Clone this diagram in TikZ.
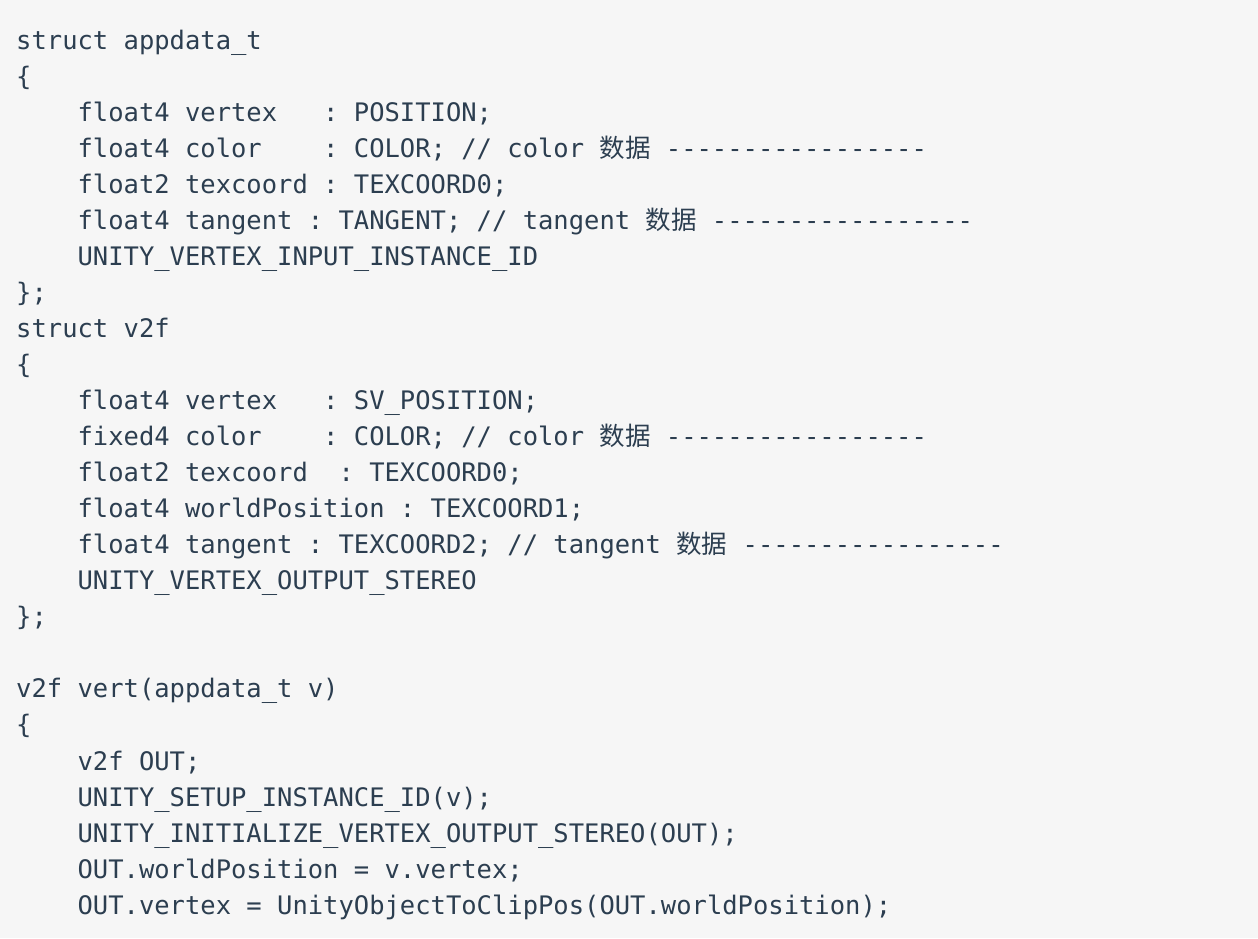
\documentclass[tikz,border=0pt]{standalone}
\usepackage{fontspec}
\setmonofont{DejaVu Sans Mono}
\newfontfamily\cjk{Noto Sans CJK SC}
\definecolor{bg}{HTML}{F6F6F6}
\definecolor{tx}{HTML}{2C3E50}
\newcommand{\zh}[1]{{\cjk #1}}
\begin{document}
\begin{tikzpicture}[x=1pt,y=-1pt,
  ln/.style={anchor=base west,inner sep=0pt,text=tx,font=\ttfamily\fontsize{25.5}{30}\selectfont}]
\fill[bg] (0,0) rectangle (1258,938);
\useasboundingbox (0,0) rectangle (1258,938);
\def\L#1#2{\node[ln] (l#1) at (16,{49+36.05*#1}) {\strut #2};}
\L{0}{struct appdata\_t}
\L{1}{\{}
\L{2}{\ \ \ \ float4 vertex \ \ : POSITION;}
\L{3}{\ \ \ \ float4 color \ \ \ : COLOR; // color \zh{数据} -----------------}
\L{4}{\ \ \ \ float2 texcoord : TEXCOORD0;}
\L{5}{\ \ \ \ float4 tangent : TANGENT; // tangent \zh{数据} -----------------}
\L{6}{\ \ \ \ UNITY\_VERTEX\_INPUT\_INSTANCE\_ID}
\L{7}{\};}
\L{8}{struct v2f}
\L{9}{\{}
\L{10}{\ \ \ \ float4 vertex \ \ : SV\_POSITION;}
\L{11}{\ \ \ \ fixed4 color \ \ \ : COLOR; // color \zh{数据} -----------------}
\L{12}{\ \ \ \ float2 texcoord \ : TEXCOORD0;}
\L{13}{\ \ \ \ float4 worldPosition : TEXCOORD1;}
\L{14}{\ \ \ \ float4 tangent : TEXCOORD2; // tangent \zh{数据} -----------------}
\L{15}{\ \ \ \ UNITY\_VERTEX\_OUTPUT\_STEREO}
\L{16}{\};}
\L{18}{v2f vert(appdata\_t v)}
\L{19}{\{}
\L{20}{\ \ \ \ v2f OUT;}
\L{21}{\ \ \ \ UNITY\_SETUP\_INSTANCE\_ID(v);}
\L{22}{\ \ \ \ UNITY\_INITIALIZE\_VERTEX\_OUTPUT\_STEREO(OUT);}
\L{23}{\ \ \ \ OUT.worldPosition = v.vertex;}
\L{24}{\ \ \ \ OUT.vertex = UnityObjectToClipPos(OUT.worldPosition);}
\end{tikzpicture}
\end{document}
